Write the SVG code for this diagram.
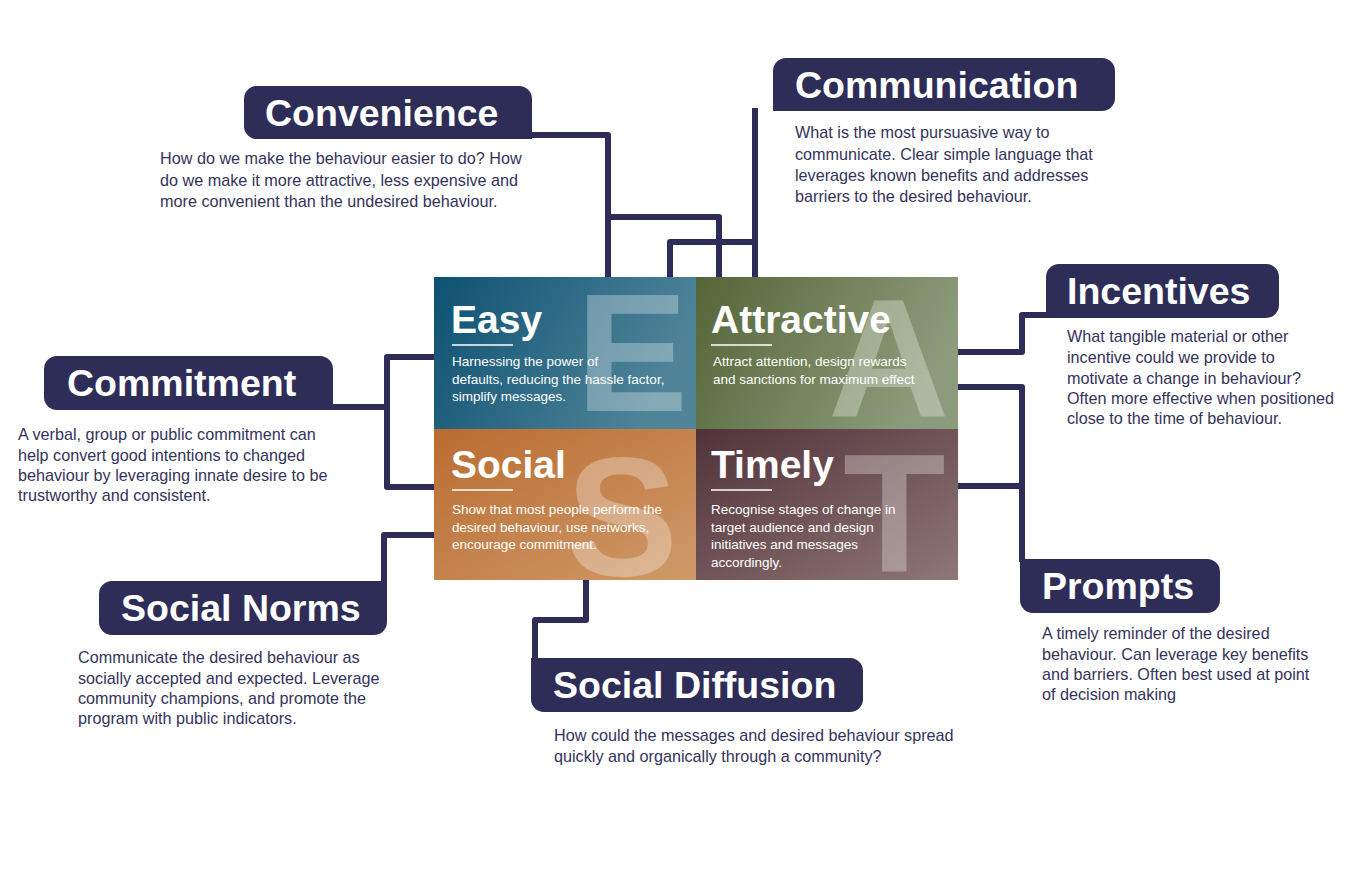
<svg xmlns="http://www.w3.org/2000/svg" width="1365" height="895" viewBox="0 0 1365 895">
<style>
.lbl{fill:#2e2d57}
.lt{font-family:"Liberation Sans",Arial,sans-serif;font-weight:bold;font-size:37.5px;fill:#fff}
.d{font-family:"Liberation Sans",Arial,sans-serif;font-size:16.2px;fill:#34335a}
.c{fill:none;stroke:#2e2d57;stroke-width:6;stroke-linejoin:round}
.gt{font-family:"Liberation Sans Narrow","Liberation Sans",Arial,sans-serif;font-weight:bold;font-size:39px;fill:#fff}
.gb{font-family:"Liberation Sans Narrow","Liberation Sans",Arial,sans-serif;font-size:13.5px;fill:#fff}
.big{font-family:"Liberation Sans",Arial,sans-serif;font-weight:bold;font-size:168px;fill:#fff;fill-opacity:0.3}
.ul{stroke:#fff;stroke-width:1.5}
</style>
<defs>
<linearGradient id="gE" x1="0" x2="1" y1="0" y2="0.3"><stop offset="0" stop-color="#0e5172"/><stop offset="1" stop-color="#4f8499"/></linearGradient>
<linearGradient id="gA" x1="0" x2="1" y1="0" y2="0.3"><stop offset="0" stop-color="#556537"/><stop offset="1" stop-color="#8c9b7b"/></linearGradient>
<linearGradient id="gS" x1="0" x2="1" y1="0" y2="1"><stop offset="0" stop-color="#ba6c30"/><stop offset="1" stop-color="#cf9a6a"/></linearGradient>
<linearGradient id="gT" x1="0" x2="1" y1="0" y2="1"><stop offset="0" stop-color="#51323a"/><stop offset="1" stop-color="#8f7776"/></linearGradient>
</defs>
<rect width="1365" height="895" fill="#fff"/>
<g id="connectors">
<polyline class="c" points="530,135 608,135 608,277"/>
<polyline class="c" points="608,217 719,217 719,277"/>
<polyline class="c" points="755,108 755,277"/>
<polyline class="c" points="755,242 670,242 670,277"/>
<polyline class="c" points="330,407 387,407"/>
<polyline class="c" points="434,357 387,357 387,487 434,487"/>
<polyline class="c" points="434,535 384,535 384,583"/>
<polyline class="c" points="586,580 586,620 535,620 535,660"/>
<polyline class="c" points="957,352 1022,352 1022,315 1050,315"/>
<polyline class="c" points="957,387 1022,387 1022,562"/>
<polyline class="c" points="957,486 1022,486"/>
</g>
<g id="grid">
<rect x="434" y="277" width="262" height="152" fill="url(#gE)"/>
<rect x="696" y="277" width="262" height="152" fill="url(#gA)"/>
<rect x="434" y="429" width="262" height="151" fill="url(#gS)"/>
<rect x="696" y="429" width="262" height="151" fill="url(#gT)"/>
<text class="big" x="576" y="411">E</text>
<text class="big" x="828" y="417">A</text>
<text class="big" x="566" y="575">S</text>
<text class="big" x="843" y="572">T</text>
<g id="easy"><text class="gt" x="451" y="333">Easy</text><line class="ul" x1="452" y1="345" x2="513" y2="345"/>
<text class="gb" x="452" y="366">Harnessing the power of</text><text class="gb" x="452" y="384">defaults, reducing the hassle factor,</text><text class="gb" x="452" y="401">simplify messages.</text></g>
<g id="attractive"><text class="gt" x="711" y="333">Attractive</text><line class="ul" x1="711" y1="345" x2="772" y2="345"/>
<text class="gb" x="713" y="366">Attract attention, design rewards</text><text class="gb" x="713" y="384">and sanctions for maximum effect</text></g>
<g id="social"><text class="gt" x="451" y="478">Social</text><line class="ul" x1="452" y1="490" x2="513" y2="490"/>
<text class="gb" x="452" y="514">Show that most people perform the</text><text class="gb" x="452" y="532">desired behaviour, use networks,</text><text class="gb" x="452" y="549">encourage commitment.</text></g>
<g id="timely"><text class="gt" x="711" y="478">Timely</text><line class="ul" x1="711" y1="490" x2="772" y2="490"/>
<text class="gb" x="711" y="514">Recognise stages of change in</text><text class="gb" x="711" y="532">target audience and design</text><text class="gb" x="711" y="549">initiatives and messages</text><text class="gb" x="711" y="567">accordingly.</text></g>
</g>
<g id="convenience"><rect class="lbl" x="244" y="86" width="288" height="53" rx="13"/><rect class="lbl" x="512" y="119" width="20" height="20"/>
<text class="lt" x="265" y="126">Convenience</text>
<text class="d" x="160" y="164">How do we make the behaviour easier to do? How</text><text class="d" x="160" y="186">do we make it more attractive, less expensive and</text><text class="d" x="160" y="207">more convenient than the undesired behaviour.</text></g>
<g id="communication"><rect class="lbl" x="773" y="58" width="342" height="53" rx="13"/><rect class="lbl" x="773" y="91" width="20" height="20"/>
<text class="lt" x="795" y="98">Communication</text>
<text class="d" x="795" y="138">What is the most pursuasive way  to</text><text class="d" x="795" y="160">communicate. Clear simple language that</text><text class="d" x="795" y="181">leverages known benefits and addresses</text><text class="d" x="795" y="202">barriers to the desired behaviour.</text></g>
<g id="incentives"><rect class="lbl" x="1046" y="264" width="233" height="54" rx="13"/><rect class="lbl" x="1046" y="298" width="20" height="20"/>
<text class="lt" x="1067" y="304">Incentives</text>
<text class="d" x="1067" y="342">What tangible material or other</text><text class="d" x="1067" y="363">incentive could we provide to</text><text class="d" x="1067" y="384">motivate a change in behaviour?</text><text class="d" x="1067" y="404">Often more effective when positioned</text><text class="d" x="1067" y="424">close to the time of behaviour.</text></g>
<g id="commitment"><rect class="lbl" x="44" y="356" width="289" height="54" rx="13"/><rect class="lbl" x="313" y="390" width="20" height="20"/>
<text class="lt" x="67" y="396">Commitment</text>
<text class="d" x="18" y="440">A verbal, group or public commitment can</text><text class="d" x="18" y="461">help convert good intentions to changed</text><text class="d" x="18" y="481">behaviour by leveraging innate desire to be</text><text class="d" x="18" y="501">trustworthy and consistent.</text></g>
<g id="social-norms"><rect class="lbl" x="99" y="581" width="288" height="54" rx="13"/><rect class="lbl" x="367" y="581" width="20" height="20"/>
<text class="lt" x="121" y="621">Social Norms</text>
<text class="d" x="78" y="663">Communicate the desired behaviour as</text><text class="d" x="78" y="684">socially accepted and expected. Leverage</text><text class="d" x="78" y="704">community champions, and promote the</text><text class="d" x="78" y="724">program with public indicators.</text></g>
<g id="social-diffusion"><rect class="lbl" x="531" y="658" width="332" height="54" rx="13"/><rect class="lbl" x="531" y="658" width="20" height="20"/>
<text class="lt" x="553" y="698">Social Diffusion</text>
<text class="d" x="554" y="741">How could the messages and desired behaviour spread</text><text class="d" x="554" y="762">quickly and organically through a community?</text></g>
<g id="prompts"><rect class="lbl" x="1020" y="559" width="200" height="54" rx="13"/><rect class="lbl" x="1020" y="559" width="20" height="20"/>
<text class="lt" x="1042" y="599">Prompts</text>
<text class="d" x="1042" y="639">A timely reminder of the desired</text><text class="d" x="1042" y="660">behaviour. Can leverage key benefits</text><text class="d" x="1042" y="680">and barriers. Often best used at point</text><text class="d" x="1042" y="700">of decision making</text></g>
</svg>
